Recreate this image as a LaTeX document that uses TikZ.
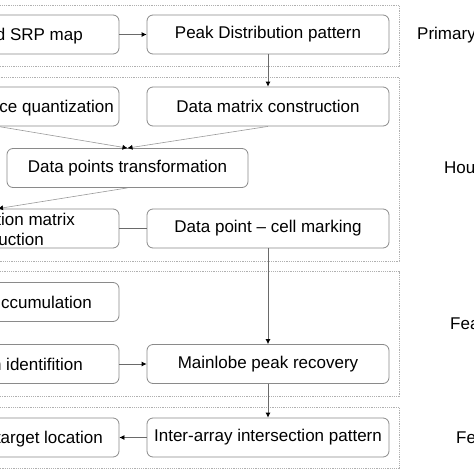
\documentclass[tikz,border=0pt]{standalone}
\usepackage{fontspec}
\setmainfont{Liberation Sans}
\usetikzlibrary{arrows.meta}
\definecolor{boxgray}{HTML}{8A8A8A}
\definecolor{linegray}{HTML}{6A6A6A}
\definecolor{diaggray}{HTML}{9A9A9A}
\definecolor{grpgray}{HTML}{B0B0B0}
\begin{document}
\begin{tikzpicture}[x=1pt,y=-1pt,
  every node/.style={font=\fontsize{17}{20}\selectfont},
  box/.style={draw=boxgray, line width=0.8pt, rounded corners=6pt, minimum width=242pt, minimum height=39pt, inner sep=0pt},
  frag/.style={inner sep=0pt, anchor=base east},
  side/.style={inner sep=0pt, anchor=base west},
  grp/.style={draw=grpgray, line width=0.8pt, dash pattern=on 1.2pt off 1pt},
  conn/.style={draw=linegray, line width=0.8pt, -{Latex[length=5pt,width=5pt,color=black]}},
  diag/.style={draw=diaggray, line width=0.6pt, -{Latex[length=5pt,width=5pt,color=black]}},
  plain/.style={draw=linegray, line width=0.8pt}]
\useasboundingbox (0,0) rectangle (474,474);
\clip (0,0) rectangle (474,474);
\fill[white] (0,0) rectangle (474,474);
% groups
\draw[grp] (-150,5) rectangle (399,66);
\draw[grp] (-150,77) rectangle (399,261);
\draw[grp] (-150,271) rectangle (399,396);
\draw[grp] (-150,407) rectangle (399,468);
% boxes
\node[box] (srp) at (-2,34.5) {};
\node[box] (peak) at (268,34.5) {Peak Distribution pattern};
\node[box] (quant) at (-2,106.5) {};
\node[box] (dmc) at (268,106.5) {Data matrix construction};
\node[box, minimum width=241pt] (dpt) at (127.5,168) {Data points transformation};
\node[box] (amc) at (-2,228.5) {};
\node[box] (dpc) at (268,228.5) {Data point – cell marking};
\node[box] (acc) at (-2,302) {};
\node[box] (iden) at (-2,364) {};
\node[box] (mpr) at (268,364) {Mainlobe peak recovery};
\node[box] (tgt) at (-2,437.5) {};
\node[box] (iap) at (268,437.5) {Inter-array intersection pattern};
% fragments of the cut-off texts
\node[frag] (srpt) at (83,40.5) {d SRP map};
\node[frag] (quantt) at (114,112.5) {ce quantization};
\node[frag] (amct1) at (75,225) {tion matrix};
\node[frag] (amct2) at (44,245) {uction};
\node[frag] (acct) at (92,308) {ccumulation};
\node[frag] (ident) at (83,370) {n identifition};
\node[frag] (tgtt) at (103,443.5) {target location};
% side labels
\node[side] (l1) at (417,39.5) {Primary};
\node[side] (l2) at (444,173) {Hou};
\node[side] (l3) at (450,329) {Fea};
\node[side] (l4) at (456,443) {Fe};
% connectors
\draw[conn] (srp) -- (peak);
\draw[conn] (peak) -- (dmc);
\draw[diag] (quant.south) -- (dpt.north);
\draw[diag] (dmc.south) -- (dpt.north);
\draw[diag] (dpt.south) -- (amc.north);
\draw[plain] (amc) -- (dpc);
\draw[conn] (dpc) -- (mpr);
\draw[conn] (iden) -- (mpr);
\draw[conn] (mpr) -- (iap);
\draw[conn] (iap) -- (tgt);
\end{tikzpicture}
\end{document}
